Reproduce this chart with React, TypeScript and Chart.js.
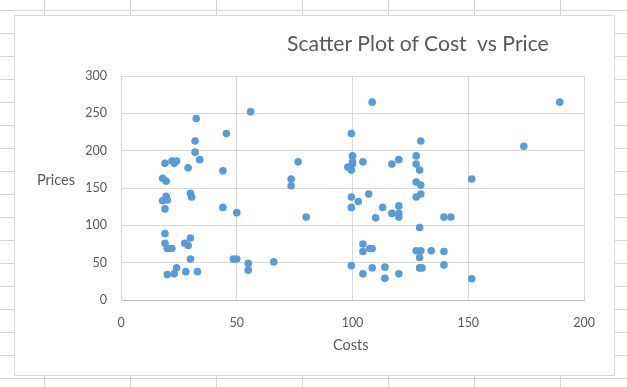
import React, { useEffect, useRef } from "react";
import { Chart, registerables } from "chart.js";

Chart.register(...registerables);

const costs: number[] = [
  56, 32.5, 45.5, 32, 32, 34, 19, 22, 23, 24, 29, 44, 18, 19.5, 19.5, 18, 20, 19, 30, 30.5,
  44, 50, 19, 19, 20, 22, 30, 27.5, 29, 30, 48.5, 50, 55, 55, 66, 24, 20, 23, 28, 33,
  108.5, 99.5, 129.5, 76.5, 73.5, 73.5, 100, 100, 100, 98, 99.5, 104.5, 117, 120, 127.5, 127.5, 129, 127.5, 129.5, 151.5,
  80, 99.5, 102.5, 107, 99.5, 113, 110, 117, 120, 120, 120, 127.5, 129.5, 139.5, 142.5, 129,
  104.5, 104.5, 107.5, 108.5, 127.5, 129.5, 129, 134, 139.5, 99.5, 108.5, 114, 104.5, 114, 120, 129, 130, 139.5, 151.5,
  189.5, 174,
];
const prices: number[] = [
  252, 243, 223, 213, 198, 188, 183, 186, 183, 186, 177, 173, 163, 159, 139, 133, 134, 122, 143, 138,
  124, 117, 89, 76, 69, 69, 83, 76, 73, 55, 55, 55, 49, 40, 51, 43, 34, 35, 38, 38,
  265, 223, 213, 185, 162, 153, 193, 185, 182, 178, 174, 185, 182, 188, 193, 182, 174, 158, 154, 162,
  111, 138, 132, 142, 124, 124, 110, 116, 126, 116, 111, 138, 142, 111, 111, 97,
  75, 65, 69, 69, 66, 66, 57, 66, 65, 46, 43, 44, 35, 29, 35, 43, 43, 47, 28.5,
  265, 206,
];
const xTicks: number[] = [0, 50, 100, 150, 200];
const yTicks: number[] = [0, 50, 100, 150, 200, 250, 300];

const chartTitle = "Scatter Plot of Cost  vs Price";
const xTitle = "Costs";
const yTitle = "Prices";

const FONT = "Lato, 'Open Sans', sans-serif";
const TEXT = "#595959";
const GRID = "#d9d9d9";

export default function App() {
  const ref = useRef<HTMLCanvasElement | null>(null);
  useEffect(() => {
    if (!ref.current) return;
    const points = costs.map((c, i) => ({ x: c, y: prices[i] }));
    const chart = new Chart(ref.current, {
      type: "scatter",
      data: {
        datasets: [
          {
            data: points,
            backgroundColor: "#5b9bd5",
            borderColor: "#5b9bd5",
            borderWidth: 0,
            pointRadius: 3.8,
            pointHoverRadius: 3.8,
          },
        ],
      },
      options: {
        responsive: false,
        animation: false,
        devicePixelRatio: 1,
        layout: { padding: { top: 60, right: 30, left: 0, bottom: 0 } },
        plugins: { legend: { display: false }, title: { display: false }, tooltip: { enabled: false } },
        scales: {
          x: {
            type: "linear",
            min: 0,
            max: 200,
            afterFit: (s: any) => { s.height = 75; },
            afterBuildTicks: (s: any) => { s.ticks = xTicks.map((v) => ({ value: v })); },
            ticks: { color: TEXT, font: { family: FONT, size: 12.5 }, padding: 15, maxRotation: 0 },
            grid: { color: GRID, drawTicks: false },
            border: { color: "#bfbfbf", width: 1 },
          },
          y: {
            type: "linear",
            min: 0,
            max: 300,
            afterFit: (s: any) => { s.width = 106; },
            afterBuildTicks: (s: any) => { s.ticks = yTicks.map((v) => ({ value: v })); },
            ticks: { color: TEXT, font: { family: FONT, size: 12.5 }, padding: 14 },
            grid: { color: GRID, drawTicks: false },
            border: { color: GRID, width: 1 },
          },
        },
      },
    });
    return () => chart.destroy();
  }, []);

  return (
    <div
      style={{
        position: "fixed",
        left: 0,
        top: 0,
        width: 627,
        height: 387,
        backgroundColor: "#ffffff",
        backgroundImage:
          "linear-gradient(to right, #d4d4d4 1px, transparent 1px), linear-gradient(to bottom, #d4d4d4 1px, transparent 1px)",
        backgroundSize: "86px 100%, 100% 23px",
        backgroundPosition: "44px 0, 0 10px",
        overflow: "hidden",
      }}
    >
      <div
        style={{
          position: "absolute",
          left: 14,
          top: 15,
          width: 601,
          height: 361,
          boxSizing: "border-box",
          border: "1px solid #d9d9d9",
          background: "#ffffff",
        }}
      >
        <canvas ref={ref} width={599} height={359} style={{ position: "absolute", left: 0, top: 0, width: 599, height: 359 }} />
        <div
          style={{
            position: "absolute",
            left: 272,
            top: 15,
            whiteSpace: "pre",
            fontFamily: FONT,
            fontSize: 21.2,
            lineHeight: "24px",
            color: TEXT,
          }}
        >
          {chartTitle}
        </div>
        <div
          style={{
            position: "absolute",
            left: 22,
            top: 155,
            fontFamily: FONT,
            fontSize: 14.5,
            lineHeight: "17px",
            color: TEXT,
          }}
        >
          {yTitle}
        </div>
        <div
          style={{
            position: "absolute",
            left: 318,
            top: 320,
            fontFamily: FONT,
            fontSize: 14.5,
            lineHeight: "17px",
            color: TEXT,
          }}
        >
          {xTitle}
        </div>
      </div>
    </div>
  );
}
